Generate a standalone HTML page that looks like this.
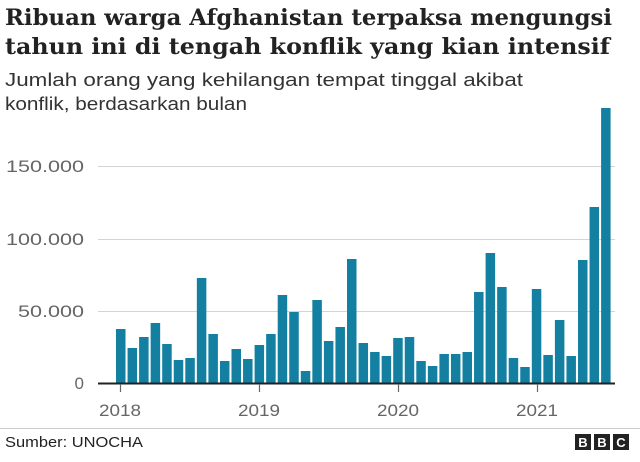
<!DOCTYPE html><html><head><style>body{margin:0;background:#fff;width:640px;height:457px;overflow:hidden;font-family:"Liberation Sans",sans-serif}</style></head><body>
<svg width="640" height="457" xmlns="http://www.w3.org/2000/svg" font-family="Liberation Sans, sans-serif">
<text x="5" y="25" font-size="22" font-weight="bold" font-family="DejaVu Serif, serif" fill="#222" textLength="607" lengthAdjust="spacingAndGlyphs">Ribuan warga Afghanistan terpaksa mengungsi</text>
<text x="5" y="54" font-size="22" font-weight="bold" font-family="DejaVu Serif, serif" fill="#222" textLength="605" lengthAdjust="spacingAndGlyphs">tahun ini di tengah konflik yang kian intensif</text>
<text x="5" y="86" font-size="18" fill="#333" textLength="518" lengthAdjust="spacingAndGlyphs">Jumlah orang yang kehilangan tempat tinggal akibat</text>
<text x="5" y="110" font-size="18" fill="#333" textLength="242" lengthAdjust="spacingAndGlyphs">konflik, berdasarkan bulan</text>
<g stroke="#d4d4d4" stroke-width="1"><line x1="98" x2="615" y1="166.5" y2="166.5"/><line x1="98" x2="615" y1="239.5" y2="239.5"/><line x1="98" x2="615" y1="311.5" y2="311.5"/></g>
<g font-size="17" fill="#666" text-anchor="end"><text x="84" y="172" textLength="78" lengthAdjust="spacingAndGlyphs">150.000</text><text x="84" y="245" textLength="78" lengthAdjust="spacingAndGlyphs">100.000</text><text x="84" y="317" textLength="66" lengthAdjust="spacingAndGlyphs">50.000</text><text x="84" y="389">0</text></g>
<g fill="#1380a1" id="bars"></g>
<line x1="98" x2="615" y1="383.5" y2="383.5" stroke="#222" stroke-width="2"/>
<g stroke="#666" stroke-width="1.2"><line x1="120.5" x2="120.5" y1="384" y2="392"/><line x1="259.5" x2="259.5" y1="384" y2="392"/><line x1="398.5" x2="398.5" y1="384" y2="392"/><line x1="537.5" x2="537.5" y1="384" y2="392"/></g>
<g font-size="17" fill="#666" text-anchor="middle"><text x="120" y="416" textLength="42" lengthAdjust="spacingAndGlyphs">2018</text><text x="259" y="416" textLength="42" lengthAdjust="spacingAndGlyphs">2019</text><text x="398" y="416" textLength="42" lengthAdjust="spacingAndGlyphs">2020</text><text x="537" y="416" textLength="42" lengthAdjust="spacingAndGlyphs">2021</text></g>
<line x1="0" x2="640" y1="428.5" y2="428.5" stroke="#ccc"/>
<text x="5" y="447" font-size="15" fill="#222" textLength="138" lengthAdjust="spacingAndGlyphs">Sumber: UNOCHA</text>
<g><rect x="575" y="434" width="16" height="16" fill="#222"/><rect x="594" y="434" width="16" height="16" fill="#222"/><rect x="613" y="434" width="16" height="16" fill="#222"/>
<g fill="#fff" font-size="13" font-weight="bold" text-anchor="middle"><text x="583" y="447">B</text><text x="602" y="447">B</text><text x="621" y="447">C</text></g></g>
</svg>
<script>
var t=[329,348,337,323,344,360,358,278,334,361,349,359,345,334,295,312,371,300,341,327,259,343,352,356,338,337,361,366,354,354,352,292,253,287,358,367,289,355,320,356,260,207,108];
var g=document.getElementById('bars'),s='';
t.forEach(function(y,i){var x=116+i*11.55;s+='<rect x="'+x.toFixed(2)+'" y="'+y+'" width="9.5" height="'+(383-y)+'"/>';});
g.innerHTML=s;
</script>
</body></html>
